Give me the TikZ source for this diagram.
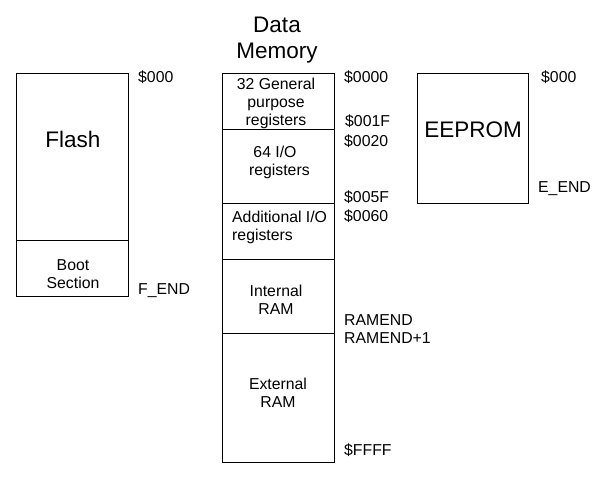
\documentclass[tikz,border=0pt]{standalone}
\usepackage{fontspec}
\setmainfont{Liberation Sans}
\begin{document}
\begin{tikzpicture}[
  x=1pt, y=-1pt,
  mem/.style={draw, line width=0.9pt},
  txt/.style={font=\fontsize{15.8}{18}\selectfont, inner sep=0pt, align=center},
  big/.style={font=\fontsize{22.5}{26}\selectfont, inner sep=0pt, align=center},
  addr/.style={font=\fontsize{15.8}{18}\selectfont, inner sep=0pt, anchor=west},
]
\useasboundingbox (0,0) rectangle (604,483);

% flash
\draw [mem] (16,73) rectangle (128,296);
\draw [mem] (16,240) -- (128,240);
\node [big] (flash) at (73,139) {Flash};
\node [txt] (boot) at (73,274) {Boot\\Section};
\node [addr] (fstart) at (138,77) {\$000};
\node [addr] (fend) at (138,291) {F\_END};

% data memory
\node [big] (dmem) at (277,40) {Data\\Memory};
\draw [mem] (222,73) rectangle (334,462);
\foreach \y in {129,203,259,333}
  \draw [mem] (222,\y) -- (334,\y);
\node [txt] (gpr) at (276,103) {32 General\\purpose\\registers};
\node [txt] (io) at (275,162) {64 I/O\\\ \ registers};
\node [txt, align=left, anchor=west] (xio) at (232,227) {Additional I/O\\registers};
\node [txt] (iram) at (276,300) {Internal\\RAM};
\node [txt] (xram) at (278,393) {External\\RAM};
\node [addr] (a0) at (344,77) {\$0000};
\node [addr] (a1) at (345,121) {\$001F};
\node [addr] (a2) at (344,141) {\$0020};
\node [addr] (a3) at (344,197) {\$005F};
\node [addr] (a4) at (344,216) {\$0060};
\node [addr] (a5) at (344,320) {RAMEND};
\node [addr] (a6) at (344,338) {RAMEND+1};
\node [addr] (a7) at (344,450) {\$FFFF};

% eeprom
\draw [mem] (417,73) rectangle (528,203);
\node [big] (eeprom) at (473,130) {EEPROM};
\node [addr] (estart) at (541,77) {\$000};
\node [addr] (eend) at (538,189) {E\_END};
\end{tikzpicture}
\end{document}
